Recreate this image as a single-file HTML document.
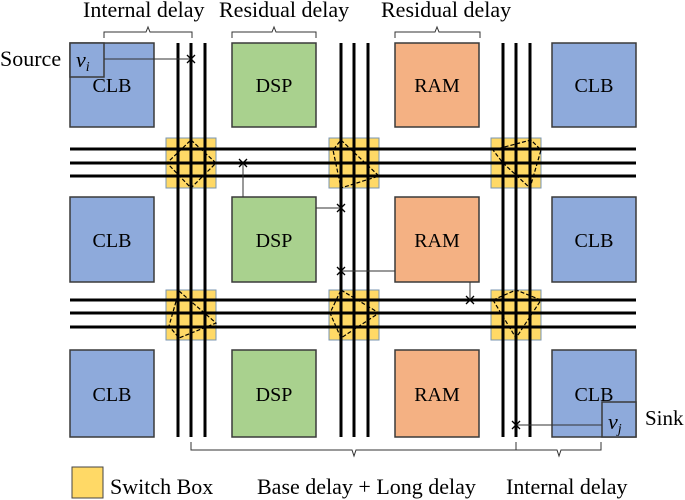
<!DOCTYPE html>
<html><head><meta charset="utf-8"><style>
html,body{margin:0;padding:0;background:#fff;}
svg{display:block;font-family:"Liberation Serif",serif;}
</style></head><body>
<svg width="685" height="500" viewBox="0 0 685 500" xmlns="http://www.w3.org/2000/svg">
<g stroke="#3a3a3a" stroke-width="1.5">
<rect x="70" y="43" width="84" height="84" fill="#8eaadb"/>
<rect x="232" y="43" width="84" height="84" fill="#a9d18e"/>
<rect x="395" y="43" width="84" height="84" fill="#f4b183"/>
<rect x="552" y="43" width="84" height="84" fill="#8eaadb"/>
<rect x="70" y="197" width="84" height="85" fill="#8eaadb"/>
<rect x="232" y="197" width="84" height="85" fill="#a9d18e"/>
<rect x="395" y="197" width="84" height="85" fill="#f4b183"/>
<rect x="552" y="197" width="84" height="85" fill="#8eaadb"/>
<rect x="70" y="350" width="84" height="87" fill="#8eaadb"/>
<rect x="232" y="350" width="84" height="87" fill="#a9d18e"/>
<rect x="395" y="350" width="84" height="87" fill="#f4b183"/>
<rect x="552" y="350" width="84" height="87" fill="#8eaadb"/>
<rect x="70" y="43" width="34" height="34" fill="#8eaadb"/>
<rect x="602" y="402" width="34" height="35" fill="#8eaadb"/>
</g>
<g fill="#ffd966" stroke="#7a95b0" stroke-width="1">
<rect x="166" y="138" width="50" height="50"/>
<rect x="329" y="138" width="50" height="50"/>
<rect x="491" y="138" width="50" height="50"/>
<rect x="166" y="290" width="50" height="50"/>
<rect x="329" y="290" width="50" height="50"/>
<rect x="491" y="290" width="50" height="50"/>
</g>
<g stroke="#000" stroke-width="3">
<path d="M178 43V437M191 43V437M205 43V437M341 43V437M354 43V437M368 43V437M503 43V437M516 43V437M530 43V437"/>
<path d="M70 149H636M70 163H636M70 176H636M70 300H636M70 313H636M70 327H636"/>
</g>
<g fill="none" stroke="#000" stroke-width="1.2" stroke-dasharray="4,2">
<polygon points="191,140 216,163 191,188 167,163"/>
<polygon points="341,140 379,176 341,188 333,150"/>
<polygon points="493,150 531,140 541,150 530,188 503,163"/>
<polygon points="179,291 216,323 179,338 169,326"/>
<polygon points="341,290 379,313 341,338 330,313"/>
<polygon points="493,300 516,290 541,300 516,338"/>
</g>
<g stroke="#333" stroke-width="1" fill="none">
<path d="M104 59H191M243 197V163M316 208H341M395 271H341M470 282V300M602 425H516"/>
</g>
<g stroke="#000" stroke-width="1.3">
<path d="M187 55l8 8M195 55l-8 8M239 159l8 8M247 159l-8 8M337 204l8 8M345 204l-8 8M337 267l8 8M345 267l-8 8M466 296l8 8M474 296l-8 8M512 421l8 8M520 421l-8 8"/>
</g>
<g stroke="#333" stroke-width="1" fill="none">
<path d="M104 38V32H146L148 27L150 32H192V38"/>
<path d="M232 38V32H272L274 27L276 32H316V38"/>
<path d="M395 38V32H435L437 27L439 32H480V38"/>
<path d="M191 442V450H352L354 456L356 450H516V442"/>
<path d="M516 442V450H557L559 456L561 450H601V442"/>
</g>
<rect x="72" y="467" width="31" height="31" fill="#ffd966" stroke="#444" stroke-width="1"/>
<g font-size="22" fill="#000">
<text x="83" y="17">Internal delay</text>
<text x="219" y="17">Residual delay</text>
<text x="381" y="17">Residual delay</text>
<text x="0" y="66">Source</text>
<text x="645" y="425" font-size="21">Sink</text>
<text x="110" y="494">Switch Box</text>
<text x="257" y="494">Base delay + Long delay</text>
<text x="506" y="494">Internal delay</text>
</g>
<g font-size="20" fill="#000" text-anchor="middle">
<text x="112" y="92">CLB</text>
<text x="274" y="92">DSP</text>
<text x="437" y="92">RAM</text>
<text x="594" y="92">CLB</text>
<text x="112" y="247">CLB</text>
<text x="274" y="247">DSP</text>
<text x="437" y="247">RAM</text>
<text x="594" y="247">CLB</text>
<text x="112" y="401">CLB</text>
<text x="274" y="401">DSP</text>
<text x="437" y="401">RAM</text>
<text x="594" y="401">CLB</text>
</g>
<g font-size="22" font-style="italic" fill="#000">
<text x="76" y="67">v<tspan font-size="14" dy="4">i</tspan></text>
<text x="608" y="429">v<tspan font-size="14" dy="4">j</tspan></text>
</g>
</svg>
</body></html>
